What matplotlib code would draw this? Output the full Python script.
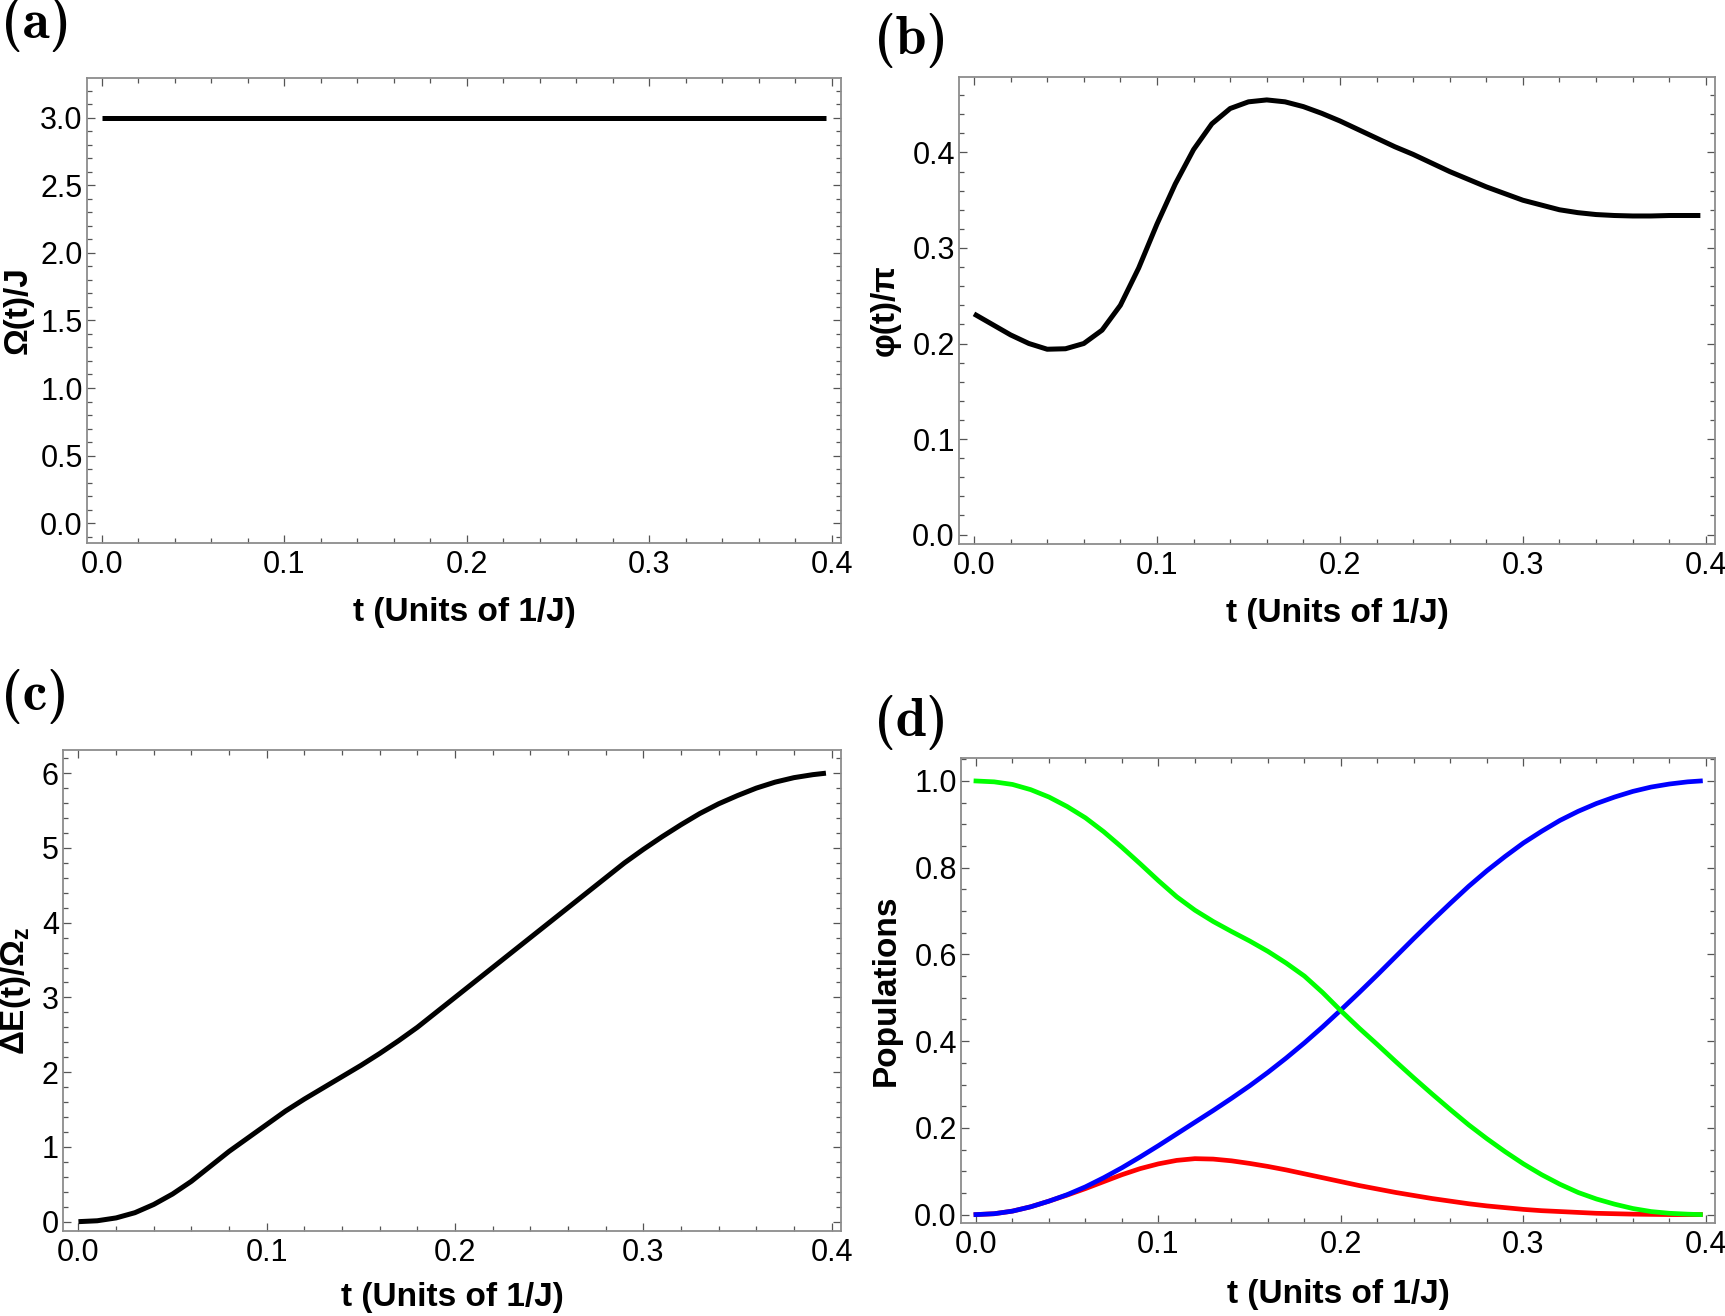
import os
import numpy as np
import matplotlib
matplotlib.use("Agg")
import matplotlib.pyplot as plt
from matplotlib.ticker import MultipleLocator, FormatStrFormatter
from matplotlib.font_manager import FontProperties

# ---------------- data ----------------
t_a = [0.0, 0.397]
omega_a = [3.0, 3.0]

t_grid = [0.00, 0.01, 0.02, 0.03, 0.04, 0.05, 0.06, 0.07, 0.08, 0.09,
          0.10, 0.11, 0.12, 0.13, 0.14, 0.15, 0.16, 0.17, 0.18, 0.19,
          0.20, 0.21, 0.22, 0.23, 0.24, 0.25, 0.26, 0.27, 0.28, 0.29,
          0.30, 0.31, 0.32, 0.33, 0.34, 0.35, 0.36, 0.37, 0.38, 0.39, 0.397]

phi_b = [0.231, 0.220, 0.209, 0.200, 0.194, 0.1945, 0.200, 0.214, 0.240, 0.279,
         0.325, 0.367, 0.403, 0.430, 0.446, 0.453, 0.455, 0.453, 0.448, 0.441,
         0.433, 0.424, 0.415, 0.406, 0.398, 0.389, 0.380, 0.372, 0.364, 0.357,
         0.350, 0.345, 0.340, 0.337, 0.335, 0.334, 0.3335, 0.3335, 0.334, 0.334, 0.334]

dE_c = [0.0, 0.012, 0.05, 0.12, 0.23, 0.37, 0.54, 0.74, 0.94, 1.12,
        1.30, 1.48, 1.64, 1.79, 1.94, 2.09, 2.25, 2.42, 2.60, 2.80,
        3.00, 3.20, 3.40, 3.60, 3.80, 4.00, 4.20, 4.40, 4.60, 4.80,
        4.98, 5.15, 5.31, 5.46, 5.59, 5.70, 5.80, 5.88, 5.94, 5.98, 6.0]

pop_green = [1.000, 0.998, 0.992, 0.980, 0.963, 0.941, 0.915, 0.883, 0.847, 0.809,
             0.770, 0.733, 0.702, 0.676, 0.653, 0.631, 0.607, 0.580, 0.550, 0.512,
             0.470, 0.430, 0.392, 0.353, 0.315, 0.278, 0.242, 0.207, 0.175, 0.145,
             0.117, 0.092, 0.070, 0.051, 0.036, 0.024, 0.014, 0.007, 0.003, 0.001, 0.0]
pop_blue = [0.0, 0.002, 0.008, 0.018, 0.031, 0.046, 0.064, 0.085, 0.108, 0.133,
            0.159, 0.186, 0.213, 0.240, 0.268, 0.297, 0.328, 0.361, 0.396, 0.433,
            0.472, 0.512, 0.553, 0.595, 0.637, 0.678, 0.718, 0.757, 0.793, 0.826,
            0.857, 0.884, 0.909, 0.930, 0.948, 0.963, 0.976, 0.986, 0.993, 0.998, 1.0]
pop_red = [0.0, 0.002, 0.008, 0.018, 0.031, 0.045, 0.060, 0.076, 0.092, 0.106,
           0.117, 0.125, 0.129, 0.128, 0.124, 0.118, 0.111, 0.103, 0.094, 0.085,
           0.076, 0.067, 0.059, 0.051, 0.044, 0.037, 0.031, 0.025, 0.020, 0.016,
           0.012, 0.009, 0.007, 0.005, 0.003, 0.002, 0.001, 0.0005, 0.0, 0.0, 0.0]

x_ticks = [0.0, 0.1, 0.2, 0.3, 0.4]

# ---------------- style ----------------
plt.rcParams["font.family"] = ["Liberation Sans", "DejaVu Sans"]
plt.rcParams["mathtext.fontset"] = "custom"
plt.rcParams["mathtext.rm"] = "Liberation Sans"
plt.rcParams["mathtext.bf"] = "Liberation Sans:bold"
plt.rcParams["mathtext.it"] = "Liberation Sans:italic"

W, H = 1725, 1316
fig = plt.figure(figsize=(W / 100, H / 100), dpi=100)

def rect(l, r, t, b):
    return [l / W, 1 - b / H, (r - l) / W, (b - t) / H]

FRAME = "#8c8c8c"
TICKFS = 22
LABFS = 24
LW = 3.6
LWC = 3.4

def style(ax, ylim, ymaj, ymin, yfmt, ylab, ylab_x, xlab_y):
    ax.set_xlim(-0.0082, 0.405)
    ax.set_ylim(*ylim)
    ax.set_xticks(x_ticks)
    ax.xaxis.set_minor_locator(MultipleLocator(0.02))
    ax.xaxis.set_major_formatter(FormatStrFormatter("%.1f"))
    ax.yaxis.set_major_locator(MultipleLocator(ymaj))
    ax.yaxis.set_minor_locator(MultipleLocator(ymin))
    ax.yaxis.set_major_formatter(FormatStrFormatter(yfmt))
    for s in ax.spines.values():
        s.set_color(FRAME)
        s.set_linewidth(1.3)
    ax.tick_params(which="both", direction="in", top=True, right=True,
                   color="#555555", width=0.9, labelsize=TICKFS)
    ax.tick_params(which="major", length=6)
    ax.tick_params(which="minor", length=3.6)
    ax.tick_params(axis="x", pad=5)
    ax.tick_params(axis="y", pad=3)
    ax.set_xlabel("t (Units of 1/J)", fontsize=LABFS, fontweight="bold")
    ax.xaxis.set_label_coords(0.5, xlab_y)
    ax.xaxis.label.set_va("center")
    ax.set_ylabel(ylab, fontsize=LABFS, fontweight="bold")
    ax.yaxis.set_label_coords(ylab_x, 0.5)
    ax.yaxis.label.set_va("center")

# (a)
ax_a = fig.add_axes(rect(87, 841, 78, 543))
ax_a.plot(t_a, omega_a, color="black", lw=LW, solid_capstyle="butt")
style(ax_a, (-0.148, 3.296), 0.5, 0.1, "%.1f", "Ω(t)/J", -0.092, -0.15)

# (b)
ax_b = fig.add_axes(rect(959, 1715, 77, 544))
ax_b.plot(t_grid, phi_b, color="black", lw=LW, solid_capstyle="butt")
style(ax_b, (-0.0099, 0.479), 0.1, 0.02, "%.1f", "φ(t)/π", -0.097, -0.148)

# (c)
ax_c = fig.add_axes(rect(63, 841, 750, 1231))
ax_c.plot(t_grid, dE_c, color="black", lw=LW, solid_capstyle="butt")
style(ax_c, (-0.125, 6.31), 1, 0.2, "%d", r"$\mathbf{ΔE(t)/Ω_z}$", -0.061, -0.139)

# (d)
ax_d = fig.add_axes(rect(961, 1715, 758, 1223))
ax_d.plot(t_grid, pop_red, color=(1, 0, 0), lw=LWC)
ax_d.plot(t_grid, pop_blue, color=(0, 0, 1), lw=LWC)
ax_d.plot(t_grid, pop_green, color=(0, 1, 0), lw=LWC)
style(ax_d, (-0.0194, 1.053), 0.2, 0.05, "%.1f", "Populations", -0.0995, -0.153)

# panel labels (Computer Modern bold)
cmb = os.path.join(matplotlib.get_data_path(), "fonts", "ttf", "cmb10.ttf")
if os.path.exists(cmb):
    lab_fp = FontProperties(fname=cmb, size=40)
else:
    lab_fp = FontProperties(family="DejaVu Serif", weight="bold", size=34)
for lab, x, y in [("(a)", 1, 25), ("(b)", 874, 40), ("(c)", 1, 697), ("(d)", 874, 722)]:
    fig.text(x / W, 1 - y / H, lab, fontproperties=lab_fp, ha="left", va="center")

fig.savefig("out.png", dpi=100)
